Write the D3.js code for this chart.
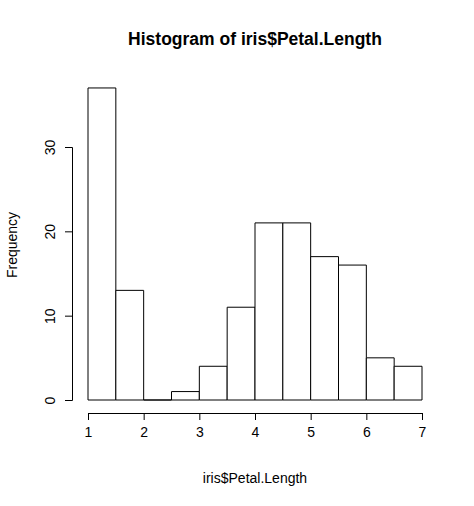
<!DOCTYPE html><html><head><script src="https://cdn.jsdelivr.net/npm/d3@7"></script>
<style>body{margin:0;background:#fff}text{font-family:"Liberation Sans",Arial,sans-serif}</style></head><body>
<script>
const binStarts=[1,1.5,2,2.5,3,3.5,4,4.5,5,5.5,6,6.5];
const binWidth=0.5;
const counts=[37,13,0,1,4,11,21,21,17,16,5,4];
const xTicks=[1,2,3,4,5,6,7];
const yTicks=[0,10,20,30];
const svg=d3.select("body").append("svg").attr("width",474).attr("height",506);
const x=d3.scaleLinear().domain([1,7]).range([88,422]);
const y=d3.scaleLinear().domain([0,30]).range([400,147]);
svg.selectAll("path.bar").data(binStarts).enter().append("path").attr("class","bar")
 .attr("d",(d,i)=>`M${x(d)},${y(0)}V${y(counts[i])}H${x(d+binWidth)}V${y(0)}Z`)
 .attr("fill","white").attr("stroke","black").attr("stroke-width",1);
const xa=svg.append("g").attr("transform","translate(0,413)").call(d3.axisBottom(x).tickValues(xTicks).tickSize(7).tickPadding(7).tickFormat(d3.format("d")));
const ya=svg.append("g").attr("transform","translate(72,0)").call(d3.axisLeft(y).tickValues(yTicks).tickSize(7).tickPadding(6));
[xa,ya].forEach(a=>{a.select(".domain").attr("stroke","black");a.selectAll("text").attr("font-size",14).attr("fill","black")});
ya.selectAll(".tick text").attr("text-anchor","middle").each(function(){d3.select(this).attr("x",-21).attr("dy",null).attr("y",0).attr("transform","rotate(-90,-21,0)").attr("dominant-baseline","middle")});
svg.append("text").attr("x",255).attr("y",45).attr("text-anchor","middle").attr("font-weight","bold").attr("font-size",17.5).text("Histogram of iris$Petal.Length");
svg.append("text").attr("x",255).attr("y",483).attr("text-anchor","middle").attr("font-size",14).text("iris$Petal.Length");
svg.append("text").attr("transform","translate(17,245) rotate(-90)").attr("text-anchor","middle").attr("font-size",14).text("Frequency");
</script></body></html>
